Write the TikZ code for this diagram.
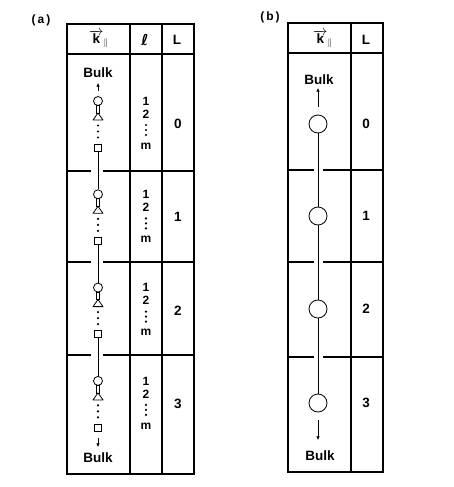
\documentclass[tikz,border=0pt]{standalone}
\usepackage{fontspec}
\setmainfont{Liberation Sans}
\newfontfamily\djv{DejaVu Sans}
\usetikzlibrary{arrows.meta}
\begin{document}
\begin{tikzpicture}[x=1pt,y=-1pt, font=\bfseries,
  tbl/.style={line width=1.1pt},
  chain/.style={line width=0.9pt},
  big/.style={circle,draw,line width=0.8pt,minimum size=18pt,inner sep=0},
  small/.style={circle,draw,line width=0.8pt,minimum size=9pt,inner sep=0},
  sq/.style={rectangle,draw,line width=0.8pt,minimum size=7pt,inner sep=0},
  dot/.style={circle,fill,minimum size=2.4pt,inner sep=0},
  lab/.style={font=\fontsize{12}{12}\bfseries\selectfont,inner sep=0},
  llab/.style={font=\fontsize{13.5}{13.5}\bfseries\selectfont,inner sep=0},
  hdr/.style={font=\fontsize{13.5}{13.5}\bfseries\selectfont,inner sep=0},
  ellhdr/.style={font=\fontsize{15}{15}\djv\bfseries\selectfont,inner sep=0},
  bulk/.style={font=\fontsize{13.5}{13.5}\bfseries\selectfont,inner sep=0},
  tag/.style={font=\fontsize{12}{12}\bfseries\selectfont,inner sep=0},
  arr/.style={-{Triangle[length=3.5pt,width=3pt]},line width=0.8pt}]
\useasboundingbox (0,0) rectangle (454,487);
% ---------------- (a) ----------------
\node[tag] (ta) at (41,20) {(\,a\,)};
\draw[tbl] (67,24) rectangle (194,474);
\draw[tbl] (130,24) -- (130,474) (162,24) -- (162,474);
\draw[tbl] (67,54) -- (194,54);
\foreach \y in {171,262,355} \draw[tbl] (67,\y) -- (91,\y) (103,\y) -- (194,\y);
\node[hdr] (ha1) at (99,39) {$\overrightarrow{\mbox{k}}_{\scriptstyle\|}$};
\node[ellhdr] (ha2) at (145,40) {ℓ};
\node[hdr] (ha3) at (177,40) {L};
\foreach \i in {0,1,2,3} {
  \pgfmathsetmacro\c{101+93.3*\i}
  \node[small] (ac\i) at (98,\c) {};
  \draw[line width=0.8pt] (96.8,\c+4.5) rectangle (99.2,\c+12);
  \draw[line width=0.8pt,line join=round] (98,\c+12) -- (103,\c+19) -- (93,\c+19) -- cycle;
  \foreach \d in {24.5,30.5,36.5} \node[dot] at (98,\c+\d) {};
  \node[sq] (as\i) at (98,\c+46.5) {};
  \node[lab] (l1\i) at (146,\c) {1};
  \node[lab] (l2\i) at (146,\c+13) {2};
  \foreach \d in {24,29,34} \node[dot] at (146,\c+\d) {};
  \node[lab] (lm\i) at (146,\c+45) {m};
  \node[llab] (lL\i) at (178,\c+23) {\i};
}
\draw[chain] (as0) -- (ac1);
\draw[chain] (as1) -- (ac2);
\draw[chain] (as2) -- (ac3);
\node[bulk] (bat) at (98,73) {Bulk};
\node[bulk] (bab) at (98,458) {Bulk};
\draw[arr,shorten <=5.5pt,shorten >=5pt] (ac0) -- (ac0 |- bat.south);
\draw[arr,shorten <=6.5pt,shorten >=6pt] (as3) -- (as3 |- bab.north);
% ---------------- (b) ----------------
\node[tag] (tb) at (270,17) {(\,b\,)};
\draw[tbl] (288,23) rectangle (383,472);
\draw[tbl] (351,23) -- (351,472);
\draw[tbl] (288,53) -- (383,53);
\foreach \y in {170,262,357} \draw[tbl] (288,\y) -- (314,\y) (323,\y) -- (383,\y);
\node[hdr] (hb1) at (323,39) {$\overrightarrow{\mbox{k}}_{\scriptstyle\|}$};
\node[hdr] (hb2) at (366,40) {L};
\foreach \i/\y in {0/124,1/216,2/309,3/403} {
  \node[big] (bc\i) at (318,\y) {};
  \node[llab] (bL\i) at (366,\y) {\i};
}
\draw[chain] (bc0) -- (bc1);
\draw[chain] (bc1) -- (bc2);
\draw[chain] (bc2) -- (bc3);
\node[bulk] (bbt) at (319,80) {Bulk};
\node[bulk] (bbb) at (320,456) {Bulk};
\draw[arr,shorten <=8pt,shorten >=3pt] (bc0) -- (bc0 |- bbt.south);
\draw[arr,shorten <=8pt,shorten >=11pt] (bc3) -- (bbb.north -| bc3);
\end{tikzpicture}
\end{document}
